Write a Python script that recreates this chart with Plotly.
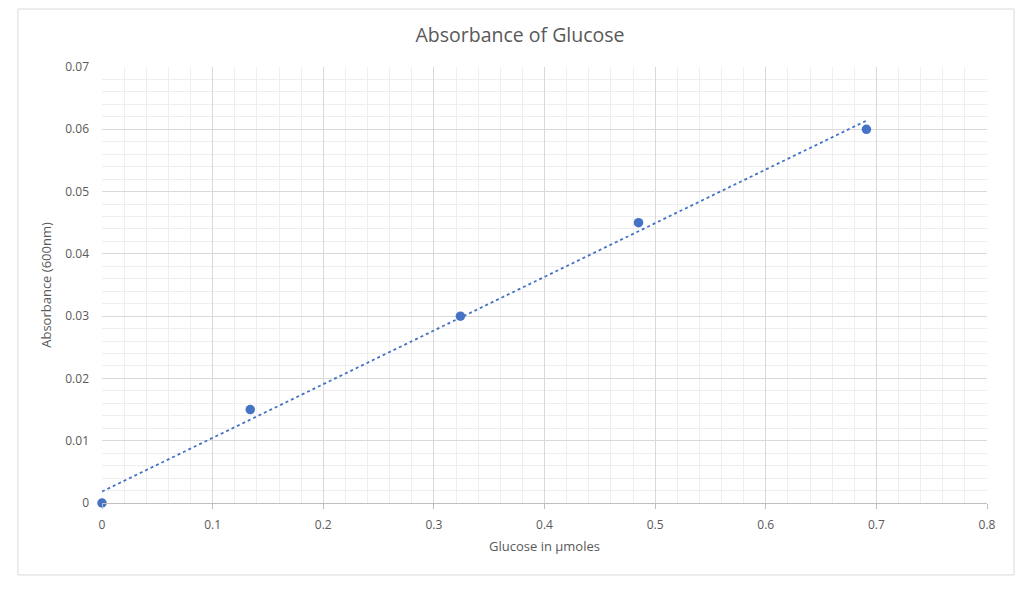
import numpy as np
import plotly.graph_objects as go

# glucose standard curve
glucose_umol = [0.0, 0.134, 0.324, 0.485, 0.691]
absorbance = [0.0, 0.015, 0.030, 0.045, 0.060]

x_ticks = [0, 0.1, 0.2, 0.3, 0.4, 0.5, 0.6, 0.7, 0.8]
x_tick_text = ["0", "0.1", "0.2", "0.3", "0.4", "0.5", "0.6", "0.7", "0.8"]
y_ticks = [0, 0.01, 0.02, 0.03, 0.04, 0.05, 0.06, 0.07]
y_tick_text = ["0", "0.01", "0.02", "0.03", "0.04", "0.05", "0.06", "0.07"]

# linear trendline like Excel's
slope, intercept = np.polyfit(glucose_umol, absorbance, 1)
trend_x = [min(glucose_umol), max(glucose_umol)]
trend_y = [slope * v + intercept for v in trend_x]

blue = "#4472C4"
grey_text = "#595959"
font = "Open Sans, Liberation Sans, sans-serif"

fig = go.Figure()
fig.add_trace(go.Scatter(
    x=trend_x, y=trend_y, mode="lines",
    line=dict(color=blue, width=1.8, dash="dot"),
    hoverinfo="skip", showlegend=False,
))
fig.add_trace(go.Scatter(
    x=glucose_umol, y=absorbance, mode="markers",
    marker=dict(color=blue, size=9.5),
    cliponaxis=False, showlegend=False,
))

fig.update_layout(
    width=1024, height=594,
    margin=dict(l=94, r=45, t=59, b=99),
    paper_bgcolor="white", plot_bgcolor="white",
    font=dict(family=font, color=grey_text, size=12),
    title=dict(text="Absorbance of Glucose", x=0.5, xanchor="center",
               y=0.955, yanchor="middle",
               font=dict(size=19.5, color=grey_text, family=font)),
    shapes=[dict(type="rect", xref="paper", yref="paper",
                 x0=-0.095, x1=1.0305, y0=-0.165, y1=1.133,
                 line=dict(color="#d9d9d9", width=1), fillcolor="rgba(0,0,0,0)",
                 layer="below")],
)

fig.update_xaxes(
    range=[0, 0.8], tickvals=x_ticks, ticktext=x_tick_text,
    showgrid=True, gridcolor="#d9d9d9", gridwidth=1,
    minor=dict(dtick=0.02, showgrid=True, gridcolor="#eeeeee", gridwidth=1),
    showline=True, linecolor="#bfbfbf", linewidth=1,
    ticks="outside", ticklen=5, tickcolor="#bfbfbf",
    ticklabelstandoff=6,
    zeroline=False, mirror=False,
    title=dict(text="Glucose in µmoles", font=dict(size=13, color=grey_text), standoff=9),
    tickfont=dict(size=12, color=grey_text),
)
fig.update_yaxes(
    range=[0, 0.07], tickvals=y_ticks, ticktext=y_tick_text,
    showgrid=True, gridcolor="#d9d9d9", gridwidth=1,
    minor=dict(dtick=0.002, showgrid=True, gridcolor="#eeeeee", gridwidth=1),
    showline=False, zeroline=False, ticks="",
    ticklabelstandoff=12,
    title=dict(text="Absorbance (600nm)", font=dict(size=13, color=grey_text), standoff=10),
    tickfont=dict(size=12, color=grey_text),
)

fig.write_html("out.html")
